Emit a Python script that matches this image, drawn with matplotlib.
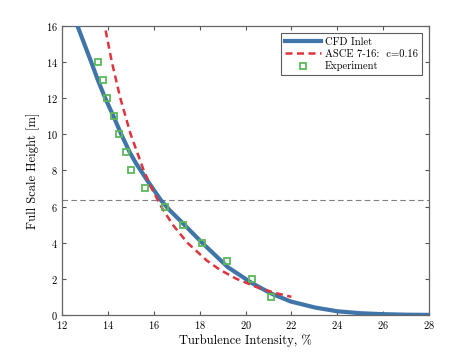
import numpy as np
import matplotlib
matplotlib.use('Agg')
import matplotlib.pyplot as plt

plt.rcParams['font.family'] = 'serif'
plt.rcParams['font.serif'] = ['cmr10']
plt.rcParams['mathtext.fontset'] = 'cm'
plt.rcParams['axes.formatter.use_mathtext'] = True

# CFD inlet profile
cfd_ti = [12.67, 13.27, 13.56, 13.88, 14.24, 14.58, 14.95, 15.22, 15.70, 16.31, 16.68,
          17.27, 18.10, 19.23, 20.29, 21.09, 21.97, 23.06, 24.00, 25.03, 26.00, 27.00, 28.00]
cfd_z = [16.0, 14.0, 13.0, 12.0, 11.0, 10.0, 9.0, 8.4, 7.47, 6.35, 5.81,
         5.07, 4.0, 2.64, 1.75, 1.2, 0.74, 0.40, 0.20, 0.09, 0.04, 0.01, 0.0]

# ASCE 7-16 curve, c = 0.16
asce_ti = [13.72, 13.86, 14.17, 14.54, 14.99, 15.56, 15.91, 16.32, 16.82, 17.46,
           18.32, 18.88, 19.60, 20.56, 21.34, 22.00]
asce_z = [17.0, 16.0, 14.0, 12.0, 10.0, 8.0, 7.0, 6.0, 5.0, 4.0,
          3.0, 2.5, 2.0, 1.5, 1.2, 1.0]

# experiment
exp_ti = [13.57, 13.80, 13.98, 14.28, 14.47, 14.78, 15.00, 15.60, 16.47, 17.28, 18.08, 19.20, 20.29, 21.09]
exp_z = [14, 13, 12, 11, 10, 9, 8, 7, 6, 5, 4, 3, 2, 1]

ref_height = 6.35

fig = plt.figure(figsize=(4.74, 3.55), dpi=100)
ax = fig.add_axes([0.131, 0.113, 0.774, 0.814])

ax.axhline(ref_height, color='#808080', lw=0.8, ls=(0, (5, 3)), zorder=1)
ax.plot(cfd_ti, cfd_z, color='#3f75a8', lw=3.0, label='CFD Inlet', zorder=3,
        solid_joinstyle='round')
ax.plot(asce_ti, asce_z, color='#e0333c', lw=1.8, ls=(0, (2.8, 1.8)), label='ASCE 7-16:  c=0.16', zorder=4)
ax.plot(exp_ti, exp_z, ls='none', marker='s', ms=5, mfc='none', mec='#5cb85a', mew=1.3,
        label='Experiment', zorder=5)

ax.set_xlim(12, 28)
ax.set_ylim(0, 16)
ax.set_xticks(np.arange(12, 29, 2))
ax.set_yticks(np.arange(0, 17, 2))
ax.tick_params(direction='in', length=3, width=0.8, color='#555555', labelsize=7.5,
               top=True, right=True, pad=3)
for s in ax.spines.values():
    s.set_color('#666666')
    s.set_linewidth(0.9)

ax.set_xlabel('Turbulence Intensity, %', fontsize=9, labelpad=2)
ax.set_ylabel('Full Scale Height [m]', fontsize=9, labelpad=4)

leg = ax.legend(loc='upper right', fontsize=7.6, frameon=True, fancybox=False,
                edgecolor='#333333', handlelength=3.4, handletextpad=0.4,
                borderpad=0.35, labelspacing=0.25, borderaxespad=0.7)
leg.get_frame().set_linewidth(0.8)

fig.savefig('out.png', dpi=100)
